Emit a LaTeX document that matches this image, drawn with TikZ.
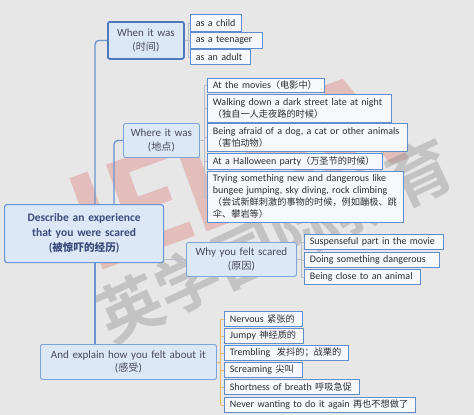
\documentclass[tikz,border=0pt]{standalone}
\usepackage{fontspec}
\setmainfont{Carlito}
\newfontfamily\cjk[Scale=0.92]{Noto Sans CJK SC}
\newfontfamily\cjkbig[Scale=1]{Noto Sans CJK SC Bold}
\newcommand{\zh}[1]{{\cjk #1}}
\usetikzlibrary{calc}
\definecolor{bgc}{HTML}{E7E7E7}
\definecolor{midfill}{HTML}{DCE8F6}
\definecolor{midline}{HTML}{7EA5D9}
\definecolor{whenline}{HTML}{4D78BC}
\definecolor{leaffill}{HTML}{F6F8FB}
\definecolor{leafline}{HTML}{5E8ED0}
\definecolor{connc}{HTML}{6B95D0}
\definecolor{subc}{HTML}{B8BCC4}
\definecolor{orc}{HTML}{E8BC6A}
\definecolor{roottext}{HTML}{3B4A7C}
\definecolor{midtext}{HTML}{48485A}
\definecolor{leaftext}{HTML}{2E2E33}
\definecolor{wmred}{HTML}{D9534F}
\newcommand{\bx}[7]{%
  \pgfmathsetmacro{\mybw}{#5-#3}\pgfmathsetmacro{\mybh}{#6-#4}\pgfmathsetmacro{\mytw}{#5-#3-11}%
  \node[#1, anchor=north west, minimum width=\mybw pt, minimum height=\mybh pt, text width=\mytw pt] (#2) at (#3,#4) {#7};}
\tikzset{
  leaf/.style={draw=leafline, fill=leaffill, line width=0.8pt, inner xsep=5pt, inner ysep=1pt,
    align=left, text=leaftext, font=\fontsize{10}{12}\selectfont},
  mid/.style={draw=midline, fill=midfill, line width=0.9pt, rounded corners=2pt, inner xsep=5pt, inner ysep=1pt,
    align=center, text=midtext, font=\fontsize{11}{13.5}\selectfont},
  rootbox/.style={draw=connc, fill=midfill, line width=1.2pt, rounded corners=2.5pt, inner xsep=5pt,
    align=center, text=roottext, font=\fontsize{11.5}{15}\selectfont\bfseries},
  conn/.style={draw=connc, line width=1.3pt, rounded corners=4pt},
  sub/.style={draw=subc, line width=0.6pt},
  osub/.style={draw=orc, line width=0.9pt}
}
\begin{document}
\begin{tikzpicture}[x=1pt,y=-1pt]
\useasboundingbox (0,0) rectangle (474,415);
\fill[bgc] (0,0) rectangle (474,415);
% watermark
\node[rotate=20, text=wmred, opacity=0.28, font=\fontsize{150}{150}\selectfont\bfseries] (wm1) at (235,170) {IELSA};
\node[rotate=25, text=gray, opacity=0.35, font=\fontsize{64}{64}\cjkbig] (wm2) at (275,240) {英学国际教育};

% root and main branches
\bx{rootbox}{root}{4}{204}{163}{262}{Describe an experience\\that you were scared\\(\zh{被惊吓的经历})}
\bx{mid, draw=whenline, line width=1.8pt}{when}{107}{21}{183}{58}{When it was\\(\zh{时间})}
\bx{mid}{where}{123}{123}{199}{157}{Where it was\\(\zh{地点})}
\bx{mid}{why}{186}{242}{296}{276}{Why you felt scared\\(\zh{原因})}
\bx{mid}{explain}{40}{344}{216}{379}{And explain how you felt about it\\(\zh{感受})}

\draw[conn] ([xshift=91pt]root.north west) |- (when.west);
\draw[conn] ([xshift=110pt]root.north west) |- (where.west);
\draw[conn] ([xshift=91pt]root.south west) -- ([xshift=91pt]root.south west |- explain.north);
\draw[sub, line width=0.8pt] (why.west) -- (why.west -| root.east);

% When children
\bx{leaf}{c1}{190}{14}{241}{31}{as a child}
\bx{leaf}{c2}{190}{32}{262}{48}{as a teenager}
\bx{leaf}{c3}{190}{49}{250}{64}{as an adult}
\coordinate (hw) at ([xshift=3pt]when.east);
\draw[sub] (when.east) -- (hw);
\draw[sub] (hw |- c1.west) -- (hw |- c3.west);
\foreach \n in {c1,c2,c3} \draw[sub] (hw |- \n.west) -- (\n.west);

% Where children
\bx{leaf}{w1}{207}{78}{324}{92}{At the movies\zh{（电影中）}}
\bx{leaf}{w2}{207}{94}{391}{122}{Walking down a dark street late at night\\\zh{（独自一人走夜路的时候）}}
\bx{leaf}{w3}{207}{123}{407}{151}{Being afraid of a dog, a cat or other animals\\\zh{（害怕动物）}}
\bx{leaf}{w4}{207}{153}{382}{169}{At a Halloween party\zh{（万圣节的时候）}}
\bx{leaf}{w5}{207}{171}{403}{222}{Trying something new and dangerous like\\bungee jumping, sky diving, rock climbing\\\zh{（尝试新鲜刺激的事物的时候，例如蹦极、跳}\\\zh{伞、攀岩等）}}
\coordinate (hr) at ([xshift=4pt]where.east);
\draw[sub] (where.east) -- (hr);
\draw[sub] (hr |- w1.west) -- (hr |- w5.west);
\foreach \n in {w1,w2,w3,w4,w5} \draw[sub] (hr |- \n.west) -- (\n.west);

% Why children
\bx{leaf}{y1}{304}{234}{443}{249}{Suspenseful part in the movie}
\bx{leaf}{y2}{304}{252}{439}{267}{Doing something dangerous}
\bx{leaf}{y3}{304}{269}{420}{284}{Being close to an animal}
\coordinate (hy) at ([xshift=4pt]why.east);
\draw[sub] (why.east) -- (hy);
\draw[sub] (hy |- y1.west) -- (hy |- y3.west);
\foreach \n in {y1,y2,y3} \draw[sub] (hy |- \n.west) -- (\n.west);

% Explain children
\bx{leaf}{e1}{224}{311}{302}{326}{Nervous \zh{紧张的}}
\bx{leaf}{e2}{224}{328}{303}{343}{Jumpy \zh{神经质的}}
\bx{leaf}{e3}{224}{345}{348}{360}{Trembling\ \ \zh{发抖的；战栗的}}
\bx{leaf}{e4}{224}{362}{302}{377}{Screaming \zh{尖叫}}
\bx{leaf}{e5}{224}{379}{359}{394}{Shortness of breath \zh{呼吸急促}}
\bx{leaf}{e6}{224}{397}{415}{412}{Never wanting to do it again \zh{再也不想做了}}
\coordinate (he) at ([xshift=4pt]explain.east);
\draw[osub] (explain.east) -- (he);
\draw[osub] (he |- e1.west) -- (he |- e6.west);
\foreach \n in {e1,e2,e3,e4,e5,e6} \draw[osub, line width=0.5pt] (he |- \n.west) -- (\n.west);
\end{tikzpicture}
\end{document}
